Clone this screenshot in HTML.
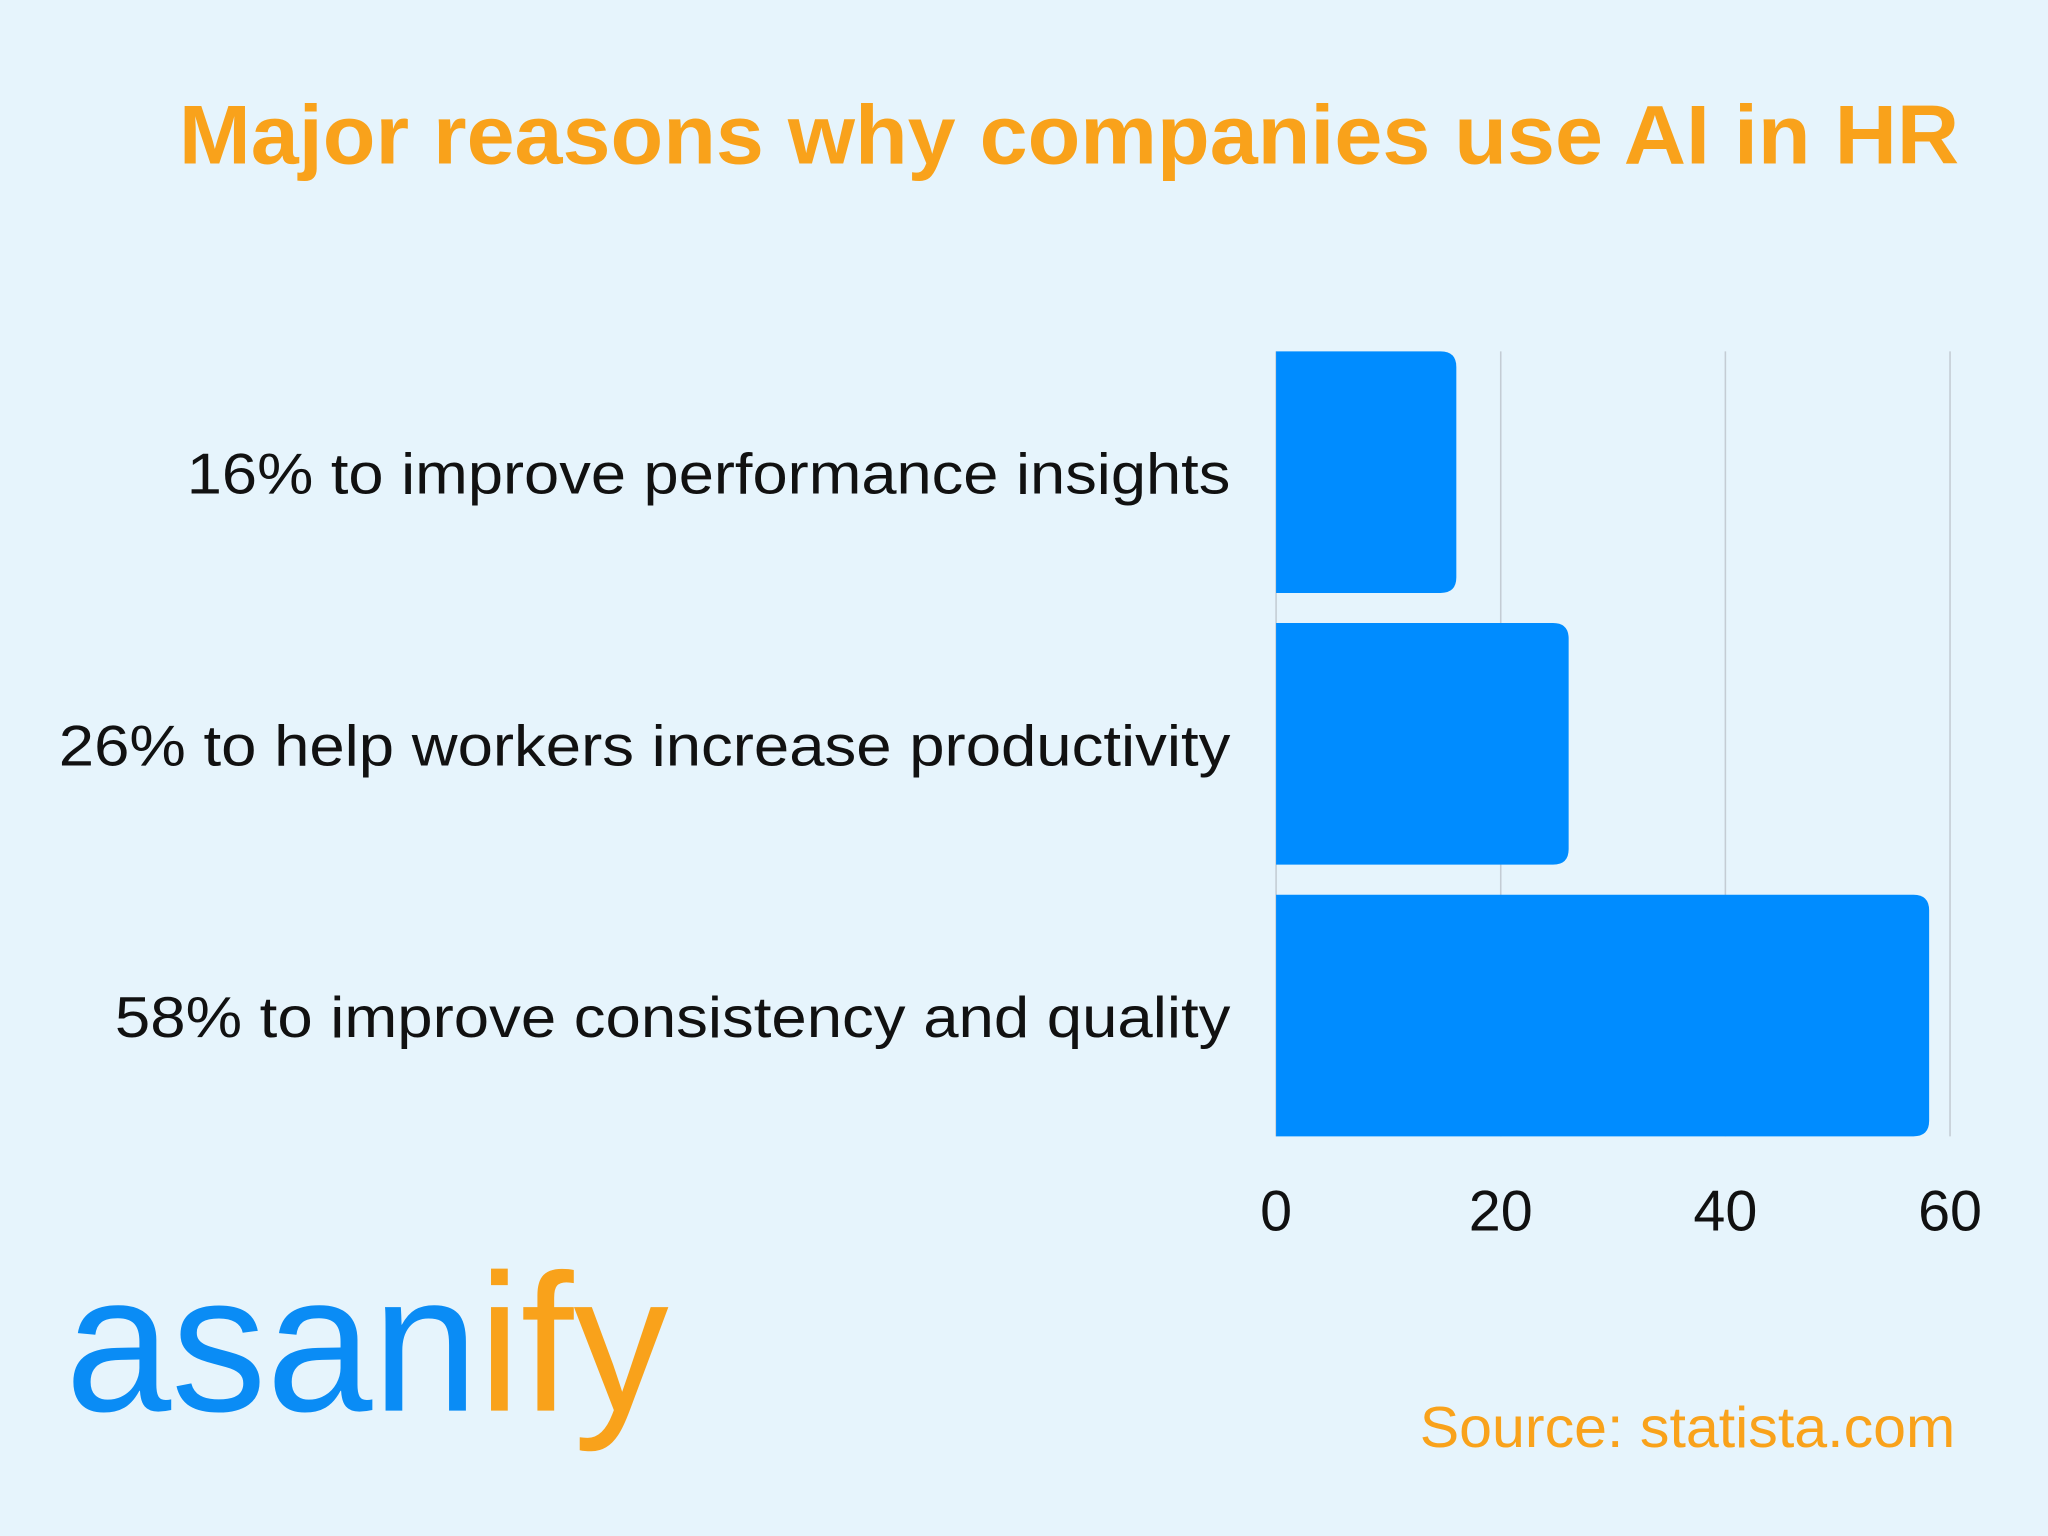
<!DOCTYPE html>
<html><head><meta charset="utf-8"><style>html,body{margin:0;padding:0;background:#E6F4FC}svg{display:block}</style></head>
<body>
<svg width="2048" height="1536" viewBox="0 0 1568 1176" xmlns="http://www.w3.org/2000/svg">
<rect width="1568" height="1176" fill="#E6F4FC"/>
<text x="137" y="125" font-family="Liberation Sans, sans-serif" font-weight="bold" font-size="64" fill="#F9A21B" textLength="1363" lengthAdjust="spacingAndGlyphs">Major reasons why companies use AI in HR</text>
<g stroke="#C4CCD4" stroke-width="1.2">
<line x1="977" y1="269" x2="977" y2="870"/>
<line x1="1149" y1="269" x2="1149" y2="870"/>
<line x1="1321" y1="269" x2="1321" y2="870"/>
<line x1="1493" y1="269" x2="1493" y2="870"/>
</g>
<g fill="#008CFF">
<path d="M977 269 H1103 Q1115 269 1115 281 V442 Q1115 454 1103 454 H977 Z"/>
<path d="M977 477 H1189 Q1201 477 1201 489 V650 Q1201 662 1189 662 H977 Z"/>
<path d="M977 685 H1465 Q1477 685 1477 697 V858 Q1477 870 1465 870 H977 Z"/>
</g>
<g font-family="Liberation Sans, sans-serif" font-size="44" fill="#111" text-anchor="end">
<text x="942" y="378" textLength="799" lengthAdjust="spacingAndGlyphs">16% to improve performance insights</text>
<text x="942" y="586" textLength="897" lengthAdjust="spacingAndGlyphs">26% to help workers increase productivity</text>
<text x="942" y="794" textLength="854" lengthAdjust="spacingAndGlyphs">58% to improve consistency and quality</text>
</g>
<g font-family="Liberation Sans, sans-serif" font-size="44" fill="#111" text-anchor="middle">
<text x="977" y="942">0</text>
<text x="1149" y="942">20</text>
<text x="1321" y="942">40</text>
<text x="1493" y="942">60</text>
</g>
<text x="50" y="1080" font-family="Liberation Sans, sans-serif" font-size="150" textLength="462" lengthAdjust="spacingAndGlyphs"><tspan fill="#0A8CF5">asan</tspan><tspan fill="#F9A21B">ify</tspan></text>
<text x="1087" y="1108" font-family="Liberation Sans, sans-serif" font-size="44" fill="#F9A21B" textLength="410" lengthAdjust="spacingAndGlyphs">Source: statista.com</text>
</svg>
</body></html>
